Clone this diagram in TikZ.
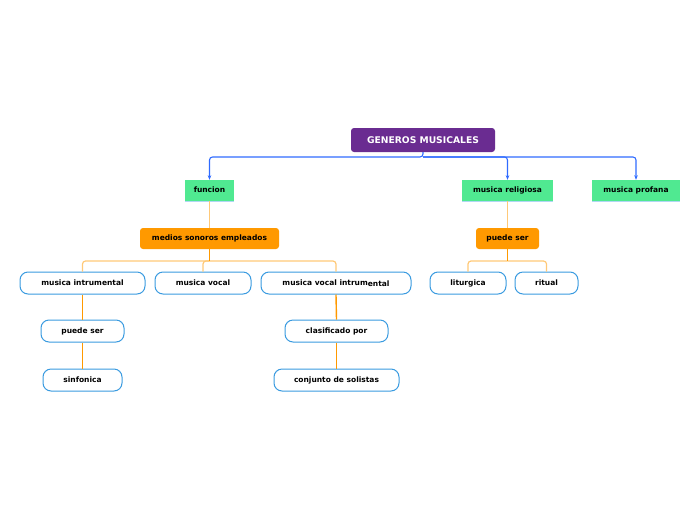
\documentclass[tikz,border=0pt]{standalone}
\usepackage{fontspec}
\setmainfont{DejaVu Sans}
\usetikzlibrary{arrows.meta}
\definecolor{purp}{HTML}{6A2C91}
\definecolor{grn}{HTML}{50E991}
\definecolor{org}{HTML}{FF9900}
\definecolor{peach}{HTML}{FFC978}
\definecolor{bl}{HTML}{2F6BFF}
\definecolor{bord}{HTML}{3A9BE0}
\tikzset{
  x=1pt,y=-1pt,
  base/.style={font=\bfseries\fontsize{7.5}{8}\selectfont, inner sep=0pt, align=center, text height=5.6pt, text depth=1.5pt},
  root/.style={base, fill=purp, text=white, rounded corners=3pt, minimum width=144pt, minimum height=24pt, font=\bfseries\fontsize{9.2}{10}\selectfont, text height=6.9pt, text depth=0pt},
  gbox/.style={base, fill=grn, minimum height=21pt},
  obox/.style={base, fill=org, rounded corners=3pt, minimum height=21pt},
  wbox/.style={base, draw=bord, line width=1pt, fill=white, rounded corners=8pt, minimum height=22pt},
  blue/.style={draw=bl, line width=1.1pt, rounded corners=3pt, -{Stealth[length=4.5pt,width=3.5pt]}},
  light/.style={draw=peach, line width=1.2pt, rounded corners=3pt},
  dark/.style={draw=org, line width=1.4pt},
}
\begin{document}
\begin{tikzpicture}
\useasboundingbox (0,0) rectangle (696,520);
\node[root] (root) at (423,140) {GENEROS MUSICALES};
\node[gbox, minimum width=49pt] (fun) at (209.5,190.5) {funcion};
\node[gbox, minimum width=91pt] (rel) at (507.5,190.5) {musica religiosa};
\node[gbox, minimum width=88pt] (pro) at (636,190.5) {musica profana};
\node[obox, minimum width=139pt] (med) at (209.5,238.5) {medios sonoros empleados};
\node[obox, minimum width=63pt] (ps1) at (507.5,238.5) {puede ser};
\node[wbox, minimum width=125pt] (mi) at (82.5,283) {musica intrumental};
\node[wbox, minimum width=96pt] (mv) at (203,283) {musica vocal};
\node[wbox, minimum width=150pt] (mvi) at (336,283) {musica vocal intrum\raisebox{-1pt}{ental}};
\node[wbox, minimum width=76pt] (lit) at (468,283) {liturgica};
\node[wbox, minimum width=63pt] (rit) at (546.5,283) {ritual};
\node[wbox, minimum width=83pt] (ps2) at (82.5,331) {puede ser};
\node[wbox, minimum width=103pt] (cla) at (336.5,331) {clasificado por};
\node[wbox, minimum width=79pt] (sin) at (82.5,380) {sinfonica};
\node[wbox, minimum width=125pt] (con) at (336.5,380) {conjunto de solistas};
% green box bottom lines
\foreach \n in {fun,rel,pro} \draw[draw=bord!40, line width=0.6pt] (\n.south west) -- (\n.south east);
% blue connectors
\coordinate (j1) at (423,157);
\draw[blue] (root.south) -- (j1) -| (fun.north);
\draw[blue] (j1) -| (rel.north);
\draw[blue] (j1) -| (pro.north);
% light connectors
\draw[light] (fun.south) -- (med.north);
\draw[light] (rel.south) -- (ps1.north);
\coordinate (j2) at (209.5,261);
\draw[light] (j2) -| (mi.north);
\draw[light] (j2) -| (mvi.north);
\draw[light] (j2) -| (mv.north);
\draw[org, line width=1.1pt] (med.south) -- (j2);
\coordinate (j3) at (507.5,261);
\draw[light] (j3) -| (lit.north);
\draw[light] (j3) -| (rit.north);
\draw[org, line width=1.1pt] (ps1.south) -- (j3);
% dark connectors
\draw[dark] (mi.south) -- (ps2.north);
\draw[dark] (ps2.south) -- (sin.north);
\draw[dark] (mvi.south) -- (cla.north);
\draw[dark] (cla.south) -- (con.north);
\end{tikzpicture}
\end{document}
